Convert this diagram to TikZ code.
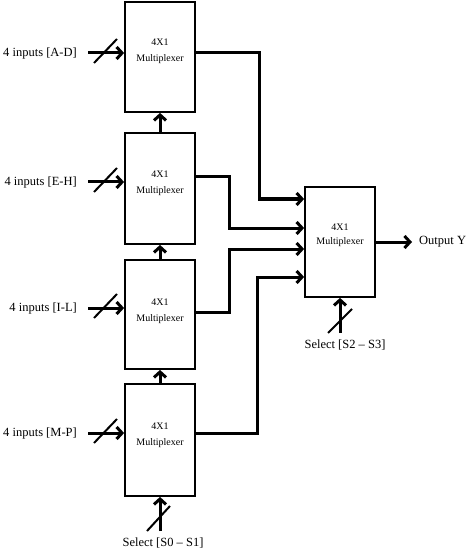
\documentclass[tikz,border=0pt]{standalone}
\usepackage{fontspec}
\setmainfont{Liberation Serif}
\usetikzlibrary{arrows.meta,calc}
\begin{document}
\begin{tikzpicture}[x=1pt,y=-1pt,
  mux/.style={draw, line width=1.8pt, minimum width=70pt, minimum height=110pt, inner sep=0pt},
  muxtext/.style={align=center, inner sep=0pt, font=\fontsize{10}{16}\selectfont},
  wire/.style={line width=3pt},
  arr/.style={line width=3pt, -{Straight Barb[length=5.5pt,width=12pt]}},
  slash/.style={line width=2pt},
  lbl/.style={font=\fontsize{12.5}{14}\selectfont, inner sep=0pt}]
\useasboundingbox (0,0) rectangle (474,553);
\node[mux, minimum height=110pt] (m1) at (160,57) {};
\node[mux, minimum height=111pt] (m2) at (160,188.5) {};
\node[mux, minimum height=109pt] (m3) at (160,314.5) {};
\node[mux, minimum height=112pt] (m4) at (160,440) {};
\node[mux, minimum height=110pt] (mr) at (340,242) {};
\node[muxtext] (t1) at (160,51) {4X1\\Multiplexer};
\node[muxtext] (t2) at (160,183) {4X1\\Multiplexer};
\node[muxtext] (t3) at (160,311) {4X1\\Multiplexer};
\node[muxtext] (t4) at (160,435) {4X1\\Multiplexer};
\node[muxtext, font=\fontsize{10}{14}\selectfont] (tr) at (340,235) {4X1\\Multiplexer};
% inputs
\foreach \m/\y/\t in {m1/53/{4 inputs [A-D]}, m2/182/{4 inputs [E-H]}, m3/308/{4 inputs [I-L]}, m4/433/{4 inputs [M-P]}}{
  \coordinate (i\m) at (88,\y);
  \node[lbl, anchor=east] (l\m) at (77,\y) {\t};
  \draw[arr] (i\m) -- (i\m -| \m.west);
  \draw[slash] ($(i\m)+(6,10)$) -- ($(i\m)+(29,-14)$);
}
% chain arrows
\draw[arr] (m2.north) -- (m1.south);
\draw[arr] (m3.north) -- (m2.south);
\draw[arr] (m4.north) -- (m3.south);
% select S0-S1
\coordinate (s1) at (160,531);
\draw[arr] (s1) -- (m4.south);
\draw[slash] (147,531) -- (170,506);
\node[lbl, anchor=center] (ls1) at (163,543) {Select [S0 – S1]};
% outputs to right mux
\draw[arr] (m1.east |- 0,53) -- (259,53) -- (259,199) -- (mr.west |- 0,199);
\draw[arr] (m2.east |- 0,177) -- (229,177) -- (229,228) -- (mr.west |- 0,228);
\draw[arr] (m3.east |- 0,312) -- (229,312) -- (229,249) -- (mr.west |- 0,249);
\draw[arr] (m4.east |- 0,433) -- (257,433) -- (257,277) -- (mr.west |- 0,277);
% select S2-S3
\coordinate (s2) at (340,333);
\draw[arr] (s2) -- (mr.south);
\draw[slash] (328,333) -- (352,309);
\node[lbl, anchor=center] (ls2) at (345,345) {Select [S2 – S3]};
% output
\coordinate (oy) at (412,242);
\draw[arr] (mr.east) -- (oy);
\node[lbl, anchor=west] (loy) at (419,242) {Output Y};
\end{tikzpicture}
\end{document}
